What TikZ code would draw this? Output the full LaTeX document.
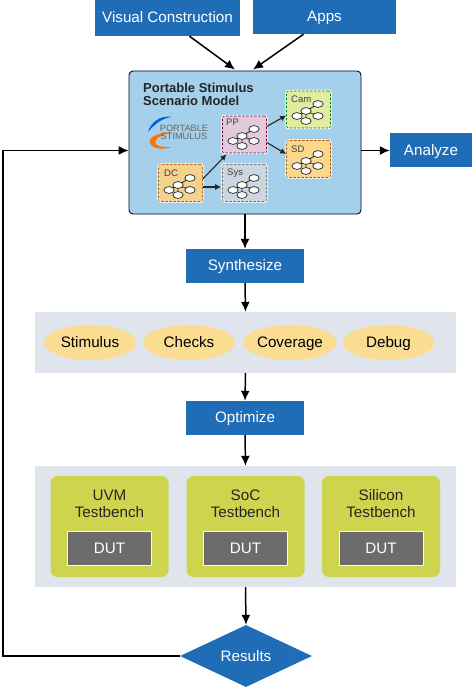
\documentclass[tikz,border=0pt]{standalone}
\usepackage{fontspec}
\setmainfont{Liberation Sans}
\usetikzlibrary{arrows.meta,shapes.geometric}

\definecolor{stepblue}{HTML}{1F6DB6}
\definecolor{modelblue}{HTML}{A5D0EC}
\definecolor{bandgray}{HTML}{E0E4EC}
\definecolor{cardgreen}{HTML}{CFD44E}
\definecolor{dutgray}{HTML}{6C6C6C}
\definecolor{ovalyellow}{HTML}{FBDD92}
\definecolor{dcfill}{HTML}{F3D28E}
\definecolor{sysfill}{HTML}{CCD6E0}
\definecolor{ppfill}{HTML}{E2C9DC}
\definecolor{camfill}{HTML}{E2EC9E}
\definecolor{sdfill}{HTML}{FDD88A}

\tikzset{
  stepbox/.style={fill=stepblue, text=white, minimum height=34pt, inner sep=0pt, text height=13pt, text depth=3.5pt, font=\fontsize{15.2}{16}\selectfont},
  flow/.style={line width=1.5pt, black, -{Latex[length=10pt,width=9pt]}},
  subflow/.style={line width=1.1pt, black!85, -{Latex[length=6pt,width=6pt]}},
  band/.style={fill=bandgray, minimum width=421pt, inner sep=0pt},
  oval/.style={ellipse, fill=ovalyellow, minimum width=92pt, minimum height=35pt, inner sep=0pt, text height=13pt, text depth=3.5pt, font=\fontsize{15.2}{16}\selectfont},
  card/.style={fill=cardgreen, rounded corners=7pt, minimum width=118pt, minimum height=101pt, inner sep=0pt},
  cardlabel/.style={align=center, text=black!85, font=\fontsize{15.2}{17}\selectfont},
  dut/.style={fill=dutgray, draw=white!85!yellow, line width=0.7pt, text=white, minimum width=84pt, minimum height=34pt, inner sep=0pt, font=\fontsize{15.2}{16}\selectfont},
  subbox/.style={rounded corners=2pt, minimum width=44pt, minimum height=37pt, inner sep=0pt, dashed, line width=0.6pt,
    dash pattern=on 2.5pt off 1.5pt, preaction={draw=white, solid, line width=2.4pt}},
  sublabel/.style={text=black!75, inner sep=0pt, anchor=west, font=\fontsize{9.5}{10}\selectfont},
  minigraph/.pic={
    \draw[line width=0.8pt, black!85] (-11,6) -- (-2,1) -- (10,-6) (10,6) -- (-2,1) -- (-2,11);
    \foreach \px/\py in {10/-6, -2/1, -11/6, 10/6, -2/11}
      \draw[fill=white, line width=0.7pt, black!85, fill=white] (\px,\py) ellipse (5.2pt and 3.4pt);
  },
}

\begin{document}
\begin{tikzpicture}[x=1pt, y=-1pt]
  \useasboundingbox (0,0) rectangle (474,687);

  % top inputs
  \node[stepbox, minimum width=145pt, minimum height=36pt] (visual) at (167.5,18) {Visual Construction};
  \node[stepbox, minimum width=143pt] (apps) at (324.5,17) {Apps};

  % scenario model panel
  \node[fill=modelblue, draw=black!80!blue, line width=0.9pt, rounded corners=4pt,
        minimum width=232pt, minimum height=143pt, inner sep=0pt] (model) at (245,142.5) {};
  \node[anchor=north west, align=left, inner sep=0pt, text=black!85,
        font=\bfseries\fontsize{13}{13}\selectfont] (title) at (143,83) {Portable Stimulus\\Scenario Model};

  % logo
  \fill[blue!55!cyan!85!black] (148,132) .. controls (151,122) and (160,115) .. (172,117)
    .. controls (162,118) and (155,124) .. (148,132) -- cycle;
  \fill[orange!90!red] (172,132) .. controls (160,133) and (148,136) .. (150,143)
    .. controls (152,149) and (163,150) .. (172,147) .. controls (164,148) and (155,146) .. (155,142)
    .. controls (155,138) and (164,134) .. (172,132) -- cycle;
  \node[inner sep=0pt, align=center, text=black!60, font=\fontsize{9.2}{8}\selectfont] (logo) at (184,132) {PORTABLE\\STIMULUS};

  % scenario boxes
  \node[subbox, fill=dcfill, draw=orange!75!black] (dc) at (180.5,183) {};
  \node[subbox, fill=sysfill, draw=black!55] (sys) at (244.5,183) {};
  \node[subbox, fill=ppfill, draw=purple!60!black] (pp) at (244.5,134.5) {};
  \node[subbox, fill=camfill, draw=green!50!black] (cam) at (308.5,109.5) {};
  \node[subbox, fill=sdfill, draw=orange!70!black] (sd) at (308.5,159) {};

  \node[sublabel] (dclabel) at (164,173) {DC};
  \node[sublabel] (syslabel) at (227,173) {Sys};
  \node[sublabel] (pplabel) at (226,122) {PP};
  \node[sublabel] (camlabel) at (291,99) {Cam};
  \node[sublabel] (sdlabel) at (291,149) {SD};

  \pic at (180,184) {minigraph};
  \pic at (244,184) {minigraph};
  \pic at (244,135) {minigraph};
  \pic at (308,110) {minigraph};
  \pic at (308,160) {minigraph};

  \draw[subflow] ([yshift=4pt]dc.east) -- ([xshift=-18pt,yshift=-1pt]pp.south);
  \draw[subflow] ([yshift=-4pt]dc.east) -- ([yshift=-4pt,xshift=-1pt]sys.west);
  \draw[subflow] ([yshift=8pt]pp.east) -- ([yshift=-6pt]cam.west);
  \draw[subflow] ([yshift=-8pt]pp.east) -- ([yshift=5pt]sd.west);

  % middle steps
  \node[stepbox, minimum width=118pt] (synth) at (245,266) {Synthesize};
  \node[band, minimum height=61pt] (bandone) at (245.5,342.5) {};
  \node[oval] (stimulus) at (90,342.5) {Stimulus};
  \node[oval] (checks) at (189,342.5) {Checks};
  \node[oval] (coverage) at (290,342.5) {Coverage};
  \node[oval] (debug) at (388.5,342.5) {Debug};
  \node[stepbox, minimum width=118pt] (optimize) at (245,418) {Optimize};
  \node[stepbox, minimum width=82pt] (analyze) at (431,150.5) {Analyze};

  % testbench band
  \node[band, minimum height=121pt] (bandtwo) at (245.5,526.5) {};
  \foreach \cname/\cx/\ctext in {uvm/109.5/UVM, soc/245.5/SoC, silicon/381/Silicon}{
    \node[card] (\cname) at (\cx,526.5) {};
    \node[cardlabel] (\cname label) at (\cx,504) {\ctext\\Testbench};
    \node[dut] (\cname dut) at (\cx,548) {DUT};
  }

  % results
  \node[diamond, aspect=2.13, fill=stepblue, text=white, inner sep=0pt, minimum width=132pt, minimum height=62pt,
        font=\fontsize{15.2}{16}\selectfont] (results) at (246,656) {Results};

  % connectors
  \draw[flow] ([xshift=22pt]visual.south) -- ([xshift=-10pt,yshift=1pt]model.north);
  \draw[flow] ([xshift=-21pt]apps.south) -- ([xshift=8pt,yshift=1pt]model.north);
  \draw[flow] (model.east |- analyze.west) -- (analyze.west);
  \draw[flow] (model.south) -- (synth.north);
  \draw[flow] (synth.south) -- (bandone.north);
  \draw[flow] (bandone.south) -- (optimize.north);
  \draw[flow] (optimize.south) -- (bandtwo.north);
  \draw[flow] (bandtwo.south) -- (results.north);

  % feedback loop
  \coordinate (loopcorner) at (3,656);
  \draw[flow] (results.west) -- (loopcorner) |- (model.west |- analyze.west);
\end{tikzpicture}
\end{document}
